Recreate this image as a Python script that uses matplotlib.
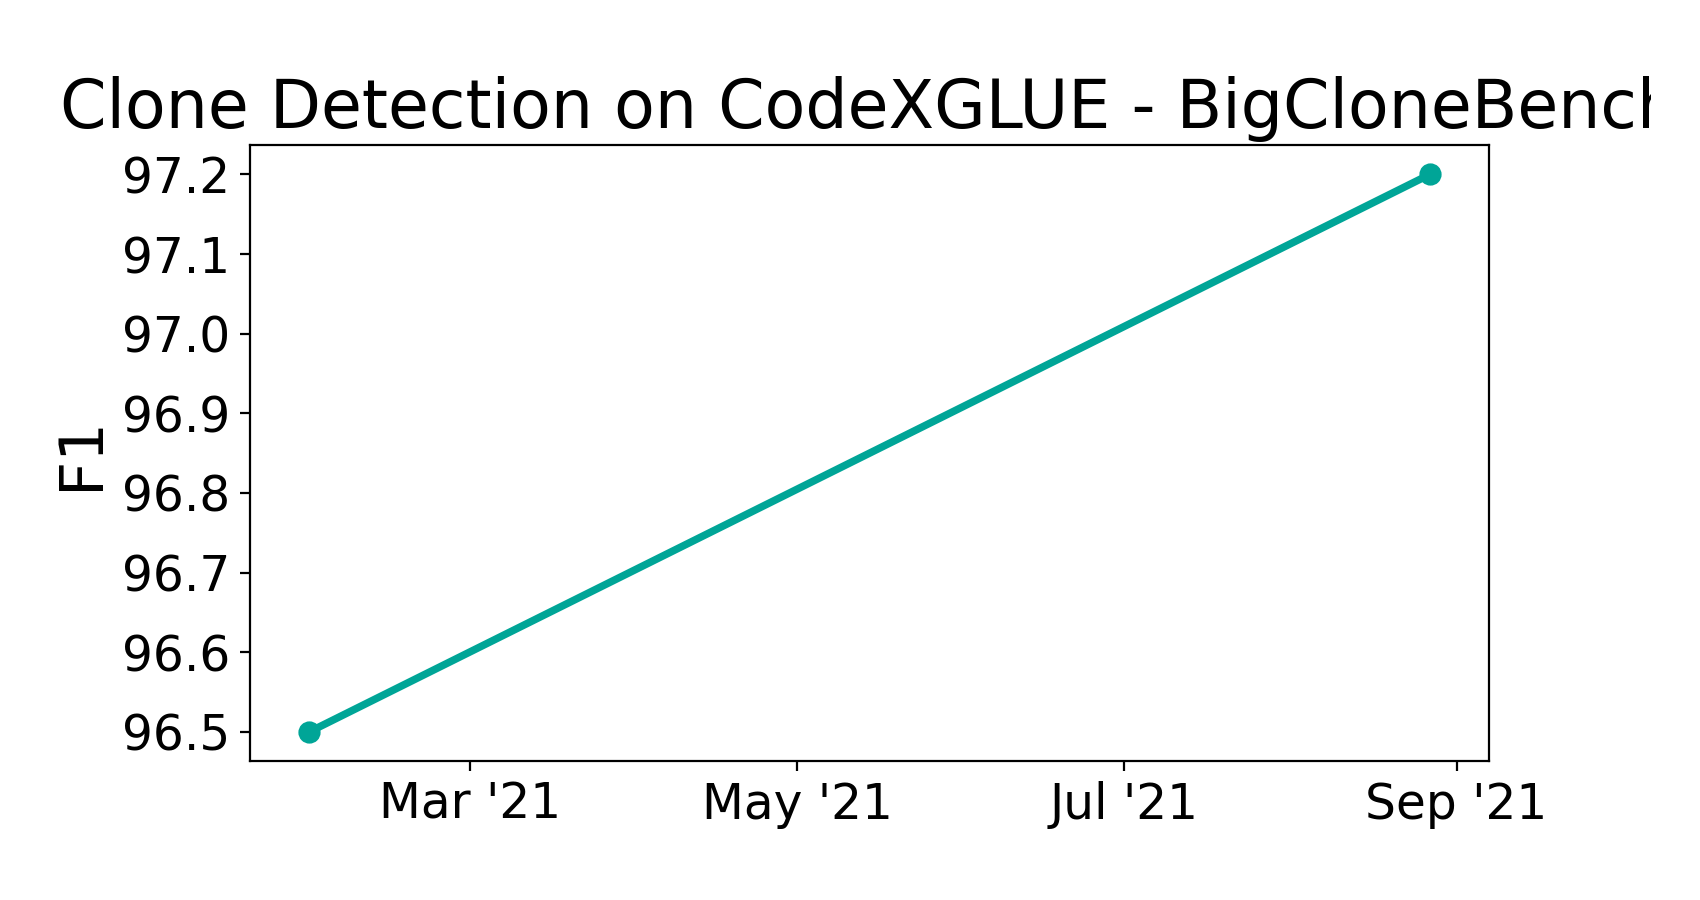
import pandas as pd
import matplotlib
matplotlib.use("Agg")
import matplotlib.pyplot as plt
import matplotlib.dates as mdates
from matplotlib.ticker import MultipleLocator
from matplotlib.transforms import Bbox, TransformedBbox

# data
dates = pd.to_datetime(["2021-01-30", "2021-08-27"])
f1_scores = [96.5, 97.2]

title = "Clone Detection on CodeXGLUE - BigCloneBench"
line_color = "#00a597"

fig, ax = plt.subplots(figsize=(8.5, 4.5), dpi=200)
fig.subplots_adjust(left=0.147, right=0.876, top=0.839, bottom=0.154)

ax.plot(dates, f1_scores, color=line_color, linewidth=2.7, marker="o", markersize=7)
ax.margins(0.053)

t = ax.set_title(title, fontsize=24)
# the original title runs off the canvas, keep the cut-off look
t.set_clip_box(TransformedBbox(Bbox([[0, 0], [1651 / 1700, 1]]), fig.transFigure))
t.set_clip_on(True)

ax.set_ylabel("F1", fontsize=22)
ax.tick_params(axis="both", labelsize=17.5)

ax.yaxis.set_major_locator(MultipleLocator(0.1))
ax.xaxis.set_major_locator(mdates.MonthLocator(bymonth=[1, 3, 5, 7, 9, 11]))
ax.xaxis.set_major_formatter(mdates.DateFormatter("%b '%y"))

plt.savefig("out.png", dpi=200)
